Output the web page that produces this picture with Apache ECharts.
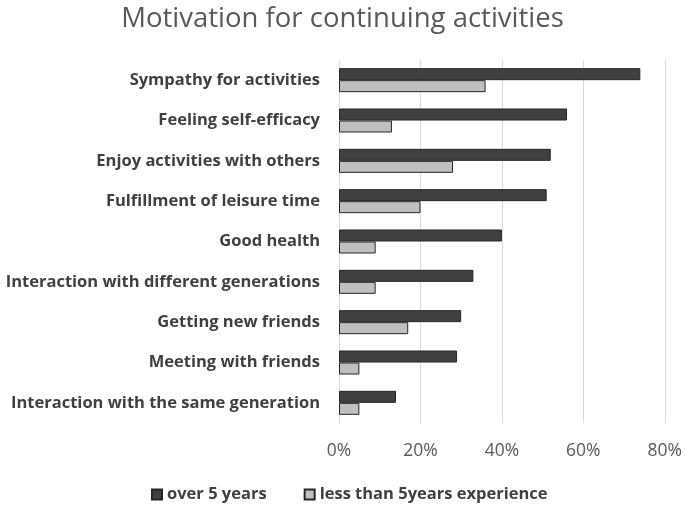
<!DOCTYPE html>
<html>
<head>
<meta charset="utf-8">
<script src="https://cdn.jsdelivr.net/npm/echarts@6/dist/echarts.min.js"></script>
<style>html,body{margin:0;padding:0;background:#fff;}#c{width:685px;height:505px;}</style>
</head>
<body>
<div id="c"></div>
<script>
var categories = [
  "Sympathy for activities",
  "Feeling self-efficacy",
  "Enjoy activities with others",
  "Fulfillment of leisure time",
  "Good health",
  "Interaction with different generations",
  "Getting new friends",
  "Meeting with friends",
  "Interaction with the same generation"
];
var over5 = [74, 56, 52, 51, 40, 33, 30, 29, 14];
var less5 = [36, 13, 28, 20, 9, 9, 17, 5, 5];
var xTicks = [0, 20, 40, 60, 80];

var chart = echarts.init(document.getElementById('c'));
chart.setOption({
  animation: false,
  title: {
    text: 'Motivation for continuing activities',
    left: 'center',
    top: 0,
    textStyle: {fontFamily: 'Open Sans', fontSize: 27.5, fontWeight: 'normal', color: '#595959'}
  },
  legend: {
    top: 481,
    left: 146,
    icon: 'rect',
    itemWidth: 10,
    itemHeight: 10,
    itemGap: 37,
    textStyle: {fontFamily: 'Open Sans', fontSize: 16.5, fontWeight: 'bold', color: '#404040'},
    data: ['over 5 years', 'less than 5years experience']
  },
  grid: {left: 339, right: 19, top: 60, bottom: 82, containLabel: false},
  xAxis: {
    type: 'value',
    min: xTicks[0],
    max: xTicks[xTicks.length - 1],
    interval: 20,
    axisLine: {show: false},
    axisTick: {show: false},
    splitLine: {lineStyle: {color: '#d9d9d9', width: 1}},
    axisLabel: {
      formatter: function (v) { return v + '%'; },
      fontFamily: 'Open Sans', fontSize: 17.5, color: '#595959', margin: 19
    }
  },
  yAxis: {
    type: 'category',
    inverse: true,
    data: categories,
    axisLine: {show: true, lineStyle: {color: '#d9d9d9'}},
    axisTick: {show: false},
    axisLabel: {fontFamily: 'Open Sans', fontSize: 16.5, fontWeight: 'bold', color: '#404040', margin: 19}
  },
  series: [
    {
      name: 'over 5 years',
      type: 'bar',
      data: over5,
      barWidth: 12,
      barGap: '0%',
      itemStyle: {color: '#404040', borderColor: '#262626', borderWidth: 1}
    },
    {
      name: 'less than 5years experience',
      type: 'bar',
      data: less5,
      barWidth: 12,
      barGap: '0%',
      itemStyle: {color: '#bfbfbf', borderColor: '#262626', borderWidth: 1}
    }
  ]
});
</script>
</body>
</html>
